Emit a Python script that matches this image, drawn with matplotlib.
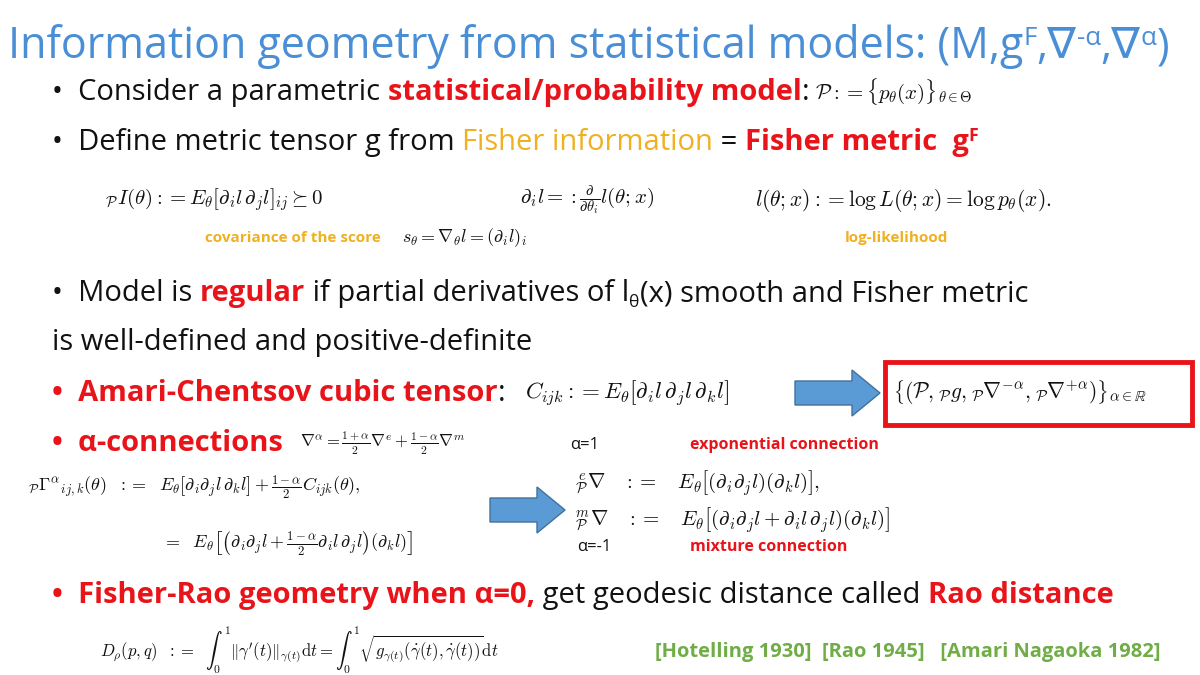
import matplotlib
matplotlib.use("Agg")
import matplotlib.pyplot as plt
from matplotlib.patches import FancyArrow, Rectangle

W, H = 1200, 675
BLUE = "#4a8fd6"; RED = "#e8141a"; ORG = "#f0b020"; GRN = "#70ad47"; K = "#111111"
FONT = "Open Sans"

# (text, color, bold, scale, rise_px)
title_segs = [("Information geometry from statistical models: (M,g", BLUE, False, 1, 0),
              ("F", BLUE, False, .6, 13), (",∇", BLUE, False, 1, 0),
              ("-α", BLUE, False, .6, 13), (",∇", BLUE, False, 1, 0),
              ("α", BLUE, False, .6, 13), (")", BLUE, False, 1, 0)]
line_segs = [
    (52, 92, [("•  Consider a parametric ", K, False, 1, 0), ("statistical/probability model", RED, True, 1, 0), (":", K, False, 1, 0)]),
    (52, 142, [("•  Define metric tensor g from ", K, False, 1, 0), ("Fisher information", ORG, False, 1, 0),
               (" = ", K, False, 1, 0), ("Fisher metric  g", RED, True, 1, 0), ("F", RED, True, .6, 9)]),
    (52, 293, [("•  Model is ", K, False, 1, 0), ("regular", RED, True, 1, 0),
               (" if partial derivatives of l", K, False, 1, 0), ("θ", K, False, .6, -6),
               ("(x) smooth and Fisher metric", K, False, 1, 0)]),
    (52, 342, [("is well-defined and positive-definite", K, False, 1, 0)]),
    (52, 393, [("•  Amari-Chentsov cubic tensor", RED, True, 1, 0), (":", K, False, 1, 0)]),
    (52, 443, [("•  α-connections", RED, True, 1, 0)]),
    (52, 595, [("•  Fisher-Rao geometry when α=0,", RED, True, 1, 0), (" get geodesic distance called ", K, False, 1, 0),
               ("Rao distance", RED, True, 1, 0)]),
]
labels = [(205, 238, "covariance of the score", ORG, 11), (845, 238, "log-likelihood", ORG, 11),
          (690, 445, "exponential connection", RED, 11.5), (690, 547, "mixture connection", RED, 11.5),
          (655, 652, "[Hotelling 1930]  [Rao 1945]   [Amari Nagaoka 1982]", GRN, 14.5)]
plain = [(570, 445, "α=1"), (577, 547, "α=-1")]
formulas = [
    (815, 92, r"$\mathcal{P} := \{p_\theta(x)\}_{\theta\in\Theta}$", 15),
    (105, 200, r"${}_{\mathcal{P}}I(\theta) := E_\theta\left[\partial_i l\,\partial_j l\right]_{ij} \succeq 0$", 15),
    (520, 200, r"$\partial_i l{=:}\frac{\partial}{\partial\theta_i}l(\theta;x)$", 15),
    (755, 200, r"$l(\theta;x) := \log L(\theta;x) = \log p_\theta(x).$", 15.5),
    (402, 238, r"$s_\theta = \nabla_\theta l = (\partial_i l)_i$", 13),
    (525, 393, r"$C_{ijk} := E_\theta\left[\partial_i l\,\partial_j l\,\partial_k l\right]$", 16.5),
    (893, 393, r"$\left\{(\mathcal{P}, {}_{\mathcal{P}}g, {}_{\mathcal{P}}\nabla^{-\alpha}, {}_{\mathcal{P}}\nabla^{+\alpha})\right\}_{\alpha\in\mathbb{R}}$", 15.5),
    (300, 443, r"$\nabla^\alpha = \frac{1+\alpha}{2}\nabla^e + \frac{1-\alpha}{2}\nabla^m$", 12),
    (28, 487, r"${}_{\mathcal{P}}\Gamma^{\alpha}{}_{ij,k}(\theta)\ \ :=\ \ E_\theta\left[\partial_i\partial_j l\,\partial_k l\right] + \frac{1-\alpha}{2}C_{ijk}(\theta),$", 13),
    (162, 543, r"$=\ \ E_\theta\left[\left(\partial_i\partial_j l + \frac{1-\alpha}{2}\partial_i l\,\partial_j l\right)(\partial_k l)\right]$", 13),
    (575, 483, r"${}^{\,e}_{\mathcal{P}}\nabla\quad:=\quad E_\theta\left[(\partial_i\partial_j l)(\partial_k l)\right],$", 15),
    (575, 520, r"${}^{m}_{\mathcal{P}}\nabla\quad:=\quad E_\theta\left[(\partial_i\partial_j l+\partial_i l\,\partial_j l)(\partial_k l)\right]$", 15),
    (100, 650, r"$D_\rho(p,q)\ \ :=\ \ \int_0^1 \Vert\gamma'(t)\Vert_{\gamma(t)}\mathrm{d}t = \int_0^1\sqrt{g_{\gamma(t)}(\dot\gamma(t),\dot\gamma(t))}\mathrm{d}t$", 12),
]

plt.rcParams["mathtext.fontset"] = "cm"
fig = plt.figure(figsize=(12, 6.75), dpi=100)
fig.patch.set_facecolor("white")
r = fig.canvas.get_renderer()

def fx(x): return x / W
def fy(y): return 1 - y / H

def segs(x, y, parts, size):
    for s, c, b, sc, rise in parts:
        t = fig.text(fx(x), fy(y - rise), s, color=c, fontsize=size * sc,
                     fontweight="bold" if b else "normal", family=[FONT, "DejaVu Sans"], va="baseline")
        x += t.get_window_extent(r).width

segs(8, 58, title_segs, 31)
for x, y, parts in line_segs:
    segs(x, y + 8, parts, 21)
for x, y, s, c, fs in labels:
    fig.text(fx(x), fy(y), s, color=c, fontsize=fs, fontweight="bold", family=FONT, va="center")
for x, y, s in plain:
    fig.text(fx(x), fy(y), s, color=K, fontsize=12, family=FONT, va="center")
for x, y, s, fs in formulas:
    fig.text(fx(x), fy(y), s, color=K, fontsize=fs, va="center")

fig.add_artist(Rectangle((fx(885), fy(425)), fx(307), 63 / H, fill=False, ec=RED, lw=3.5))
for x0, x1, y in [(795, 880, 393), (490, 565, 510)]:
    fig.add_artist(FancyArrow(fx(x0), fy(y), fx(x1 - x0), 0, width=24 / H, head_width=46 / H,
                              head_length=fx(28), length_includes_head=True,
                              fc="#5b9bd5", ec="#41719c", lw=1))
fig.savefig("out.png", dpi=100)
